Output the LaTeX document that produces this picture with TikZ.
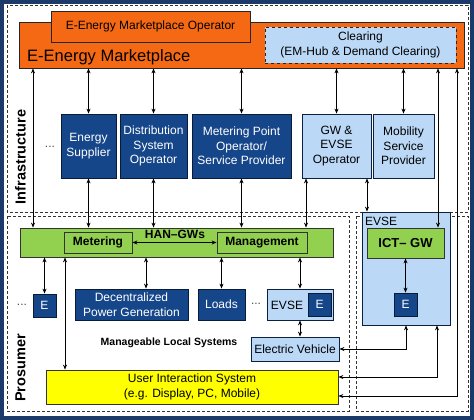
\documentclass[tikz,border=0pt]{standalone}
\usepackage{fontspec}
\setmainfont{Liberation Sans}
\usetikzlibrary{arrows.meta}

\definecolor{mktorange}{RGB}{245,105,20}
\definecolor{darkblue}{RGB}{22,70,138}
\definecolor{lightblue}{RGB}{187,217,247}
\definecolor{hangreen}{RGB}{146,208,80}
\definecolor{framenavy}{RGB}{28,58,105}
\definecolor{uisyellow}{RGB}{255,255,0}

\tikzset{
  box/.style={draw=black!80, line width=0.8pt, inner sep=0pt, align=center,
    font=\fontsize{12}{14.5}\selectfont},
  orangebox/.style={box, fill=mktorange, draw=black!85},
  darkbox/.style={box, fill=darkblue, text=white, draw=black!60!darkblue},
  lightbox/.style={box, fill=lightblue, draw=black!55!darkblue},
  greenbox/.style={box, fill=hangreen, draw=black!80},
  ebox/.style={darkbox, minimum width=23pt, minimum height=23pt},
  zone/.style={draw=black!80, line width=0.9pt, dash pattern=on 3pt off 2pt},
  biarr/.style={{Stealth[length=5pt,width=4pt]}-{Stealth[length=5pt,width=4pt]}, line width=0.7pt},
  sidelabel/.style={rotate=90, font=\fontsize{14.5}{16}\selectfont\bfseries},
  dotslabel/.style={text=black!70, font=\fontsize{12}{14}\selectfont},
}

\begin{document}
\begin{tikzpicture}[x=1pt,y=-1pt]
  \useasboundingbox (0,0) rectangle (474,420);
  \draw[framenavy,line width=4pt] (2,2) rectangle (472,418);

  % zones
  \draw[zone] (7,5) rectangle (468,212);
  \draw[zone] (7,216) rectangle (349,411);
  \draw[zone] (356,216) rectangle (468,411);
  \node[sidelabel] (infralabel) at (20.5,157) {Infrastructure};
  \node[sidelabel] (prosumerlabel) at (20.5,368) {Prosumer};

  % marketplace
  \node[orangebox, minimum width=445pt, minimum height=46pt] (mkt) at (241.5,45) {};
  \node[anchor=base west, inner sep=0pt, font=\fontsize{16.5}{19}\selectfont] (mktlabel) at (27,61.5) {E-Energy Marketplace};
  \node[orangebox, minimum width=199pt, minimum height=31pt] (op) at (150.5,26.5) {E-Energy Marketplace Operator};
  \node[lightbox, dashed, draw=black!85, minimum width=191pt, minimum height=36pt,
    font=\fontsize{12}{15}\selectfont] (clearing) at (360.5,45) {Clearing\\(EM-Hub \& Demand Clearing)};

  % infrastructure actors
  \node[dotslabel] (dotsA) at (50,147) {...};
  \node[darkbox, minimum width=55pt, minimum height=64pt] (es) at (88.5,146) {Energy\\Supplier};
  \node[darkbox, minimum width=67pt, minimum height=64pt] (dso) at (153.5,146) {Distribution\\System\\Operator};
  \node[darkbox, minimum width=99pt, minimum height=64pt] (mpo) at (241.5,146) {Metering Point\\Operator/\\Service Provider};
  \node[lightbox, minimum width=69pt, minimum height=64pt] (gwo) at (336.5,146) {GW \&\\EVSE\\Operator};
  \node[lightbox, minimum width=61pt, minimum height=64pt] (msp) at (403.5,146) {Mobility\\Service\\Provider};

  % HAN gateways
  \node[greenbox, minimum width=313pt, minimum height=29pt] (han) at (176.5,242.5) {};
  \node[greenbox, minimum width=68pt, minimum height=21pt, font=\fontsize{12}{14}\selectfont\bfseries] (metering) at (98,242.5) {Metering};
  \node[greenbox, minimum width=90pt, minimum height=21pt, font=\fontsize{12}{14}\selectfont\bfseries] (mgmt) at (262,242.5) {Management};
  \node[font=\fontsize{12}{14}\selectfont\bfseries, inner sep=0pt] (hanlabel) at (175,234) {HAN--GWs};

  % EVSE with ICT gateway
  \node[lightbox, minimum width=88pt, minimum height=113pt] (evse) at (406,268.5) {};
  \node[anchor=west, inner sep=0pt, font=\fontsize{12}{14}\selectfont] (evselabel) at (365,221.5) {EVSE};
  \node[greenbox, minimum width=77pt, minimum height=30pt, font=\fontsize{13}{15}\selectfont\bfseries] (ictgw) at (405.5,243) {ICT-- GW};
  \node[ebox] (eR) at (405.5,304.5) {E};

  % manageable local systems
  \node[dotslabel] (dotsB) at (22,305) {...};
  \node[ebox] (eL) at (44.5,305.5) {E};
  \node[darkbox, minimum width=113pt, minimum height=31pt] (dpg) at (131.5,304.5) {Decentralized\\Power Generation};
  \node[darkbox, minimum width=47pt, minimum height=31pt] (loads) at (221.5,304.5) {Loads};
  \node[dotslabel] (dotsC) at (256,304) {...};
  \node[lightbox, minimum width=66pt, minimum height=31pt] (evsel) at (300,304.5) {};
  \node[inner sep=0pt, font=\fontsize{12}{14}\selectfont] (evsellabel) at (287,305) {EVSE};
  \node[ebox] (eIn) at (319.5,304.5) {E};
  \node[font=\fontsize{10.5}{12}\selectfont\bfseries] (mlslabel) at (169,343) {Manageable Local Systems};
  \node[lightbox, minimum width=88pt, minimum height=24pt] (ev) at (295,349) {Electric Vehicle};
  \node[box, fill=uisyellow, minimum width=292pt, minimum height=34pt,
    font=\fontsize{12}{15}\selectfont] (uis) at (192,387) {User Interaction System\\(e.g. Display, PC, Mobile)};

  % lanes
  \coordinate (laneA) at (33,0);
  \coordinate (laneB) at (65,0);
  \coordinate (laneC) at (146,0);
  \coordinate (laneG) at (306,0);
  \coordinate (laneH) at (367,0);
  \coordinate (laneI) at (438,0);
  \coordinate (laneJ) at (457,0);
  \coordinate (laneK) at (437,0);

  % connectors infrastructure
  \draw[biarr] (mkt.south -| laneA) -- (han.north -| laneA);
  \draw[biarr] (mkt.south -| es) -- (es.north);
  \draw[biarr] (es.south) -- (han.north -| es);
  \draw[biarr] (mkt.south -| dso) -- (dso.north);
  \draw[biarr] (dso.south) -- (han.north -| dso);
  \draw[biarr] (mkt.south -| mpo) -- (mpo.north);
  \draw[biarr] (mpo.south) -- (han.north -| mpo);
  \draw[biarr] (mkt.south -| gwo) -- (gwo.north);
  \draw[biarr] (mkt.south -| msp) -- (msp.north);
  \draw[biarr] (gwo.south -| laneG) -- (han.north -| laneG);
  \draw[biarr] (gwo.south -| laneH) -- (evse.north -| laneH);
  \draw[biarr] (mkt.south -| laneI) -- (ictgw.north -| laneI);
  \draw[biarr] (mkt.south -| laneJ) |- ([yshift=-9pt]uis.east);
  \draw[biarr] ([yshift=10pt]uis.east) -| (evse.south -| laneK);
  \draw[biarr] (ev.east) -| (evse.south);
  \draw[biarr] (ictgw.south) -- (eR.north);

  % connectors prosumer
  \draw[biarr] (metering.east) -- (mgmt.west);
  \draw[biarr] (han.south -| eL) -- (eL.north);
  \draw[biarr] (han.south -| laneB) -- (uis.north -| laneB);
  \draw[biarr] (han.south -| laneC) -- (dpg.north -| laneC);
  \draw[biarr] (han.south -| loads) -- (loads.north);
  \draw[biarr] (han.south -| evsel) -- (evsel.north);
  \draw[biarr] (evsel.south) -- (ev.north -| evsel);
\end{tikzpicture}
\end{document}
